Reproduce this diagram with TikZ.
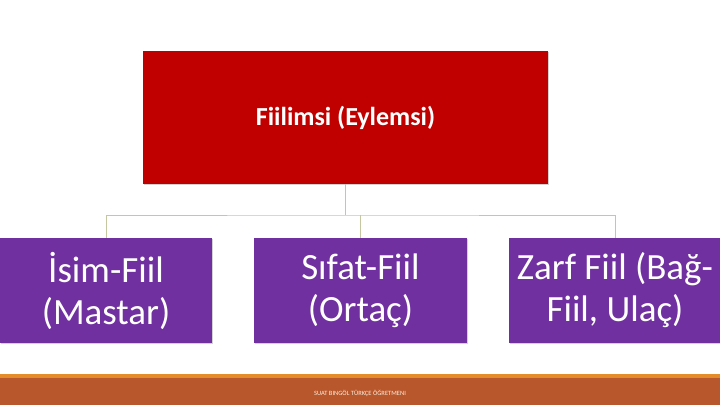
\documentclass[tikz,border=0pt]{standalone}
\usepackage{fontspec}
\setmainfont{Carlito}
\definecolor{topred}{RGB}{192,0,0}
\definecolor{kidpurple}{RGB}{112,48,160}
\definecolor{linkcol}{RGB}{196,200,160}
\definecolor{barorange}{RGB}{228,140,42}
\definecolor{barbrown}{RGB}{185,87,44}
\tikzset{
  topbox/.style={fill=topred, text=white, minimum width=405pt, minimum height=133pt, inner sep=0pt,
    font=\fontsize{26}{30}\selectfont\bfseries, drop shadow={shadow xshift=1pt, shadow yshift=-1pt, opacity=0.35}},
  kidbox/.style={fill=kidpurple, text=white, minimum height=105pt, inner sep=0pt, align=center,
    font=\fontsize{37}{42}\selectfont, drop shadow={shadow xshift=1pt, shadow yshift=-1pt, opacity=0.35}},
  link/.style={draw=linkcol, line width=0.9pt}
}
\usetikzlibrary{shadows}
\begin{document}
\begin{tikzpicture}[x=1pt, y=-1pt]
\useasboundingbox (0,0) rectangle (720,405);
\clip (0,0) rectangle (720,405);
\fill[white] (0,0) rectangle (720,405);
\node[topbox] (top) at (345.5,117.5) {Fiilimsi (Eylemsi)};
\node[kidbox, minimum width=212pt] (c1) at (106,290.5) {İsim-Fiil\\(Mastar)};
\node[kidbox, minimum width=213pt] (c2) at (360.5,290.5) {Sıfat-Fiil\\(Ortaç)};
\node[kidbox, minimum width=212pt] (c3) at (615,290.5) {Zarf Fiil (Bağ-\\Fiil, Ulaç)};
\coordinate (j) at (345.5,215);
\draw[link] (top.south) -- (j);
\draw[link] (c1.north) |- (j) -| (c3.north);
\draw[link] (c2.north) -- (c2.north |- j);
\fill[barorange] (0,374) rectangle (720,377.5);
\fill[barbrown] (0,377.5) rectangle (720,405);
\node[text=white!85!barorange, font=\fontsize{6.5}{8}\selectfont, inner sep=0pt] (foot) at (360,393) {SUAT BINGÖL TÜRKÇE ÖĞRETMENI};
\end{tikzpicture}
\end{document}
